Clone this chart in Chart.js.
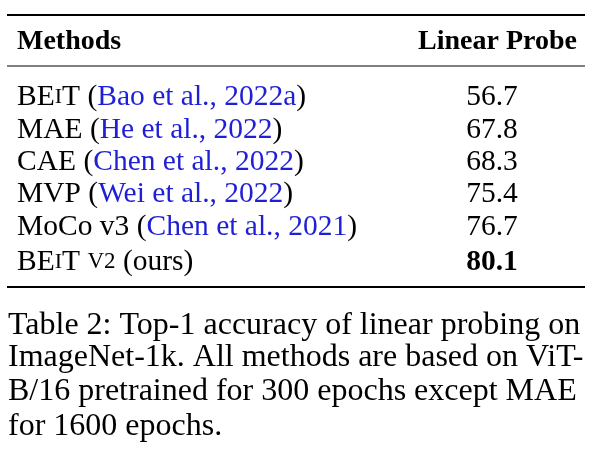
<!DOCTYPE html>
<html>
<head>
<meta charset="UTF-8">
<script src="https://cdn.jsdelivr.net/npm/chart.js"></script>
<style>
  body { margin: 0; background: #fff; }
  #wrap { width: 600px; height: 465px; }
</style>
</head>
<body>
<div id="wrap"><canvas id="tbl"></canvas></div>
<script>
// table content
const methods = ['BEiT', 'MAE', 'CAE', 'MVP', 'MoCo v3', 'BEiT v2'];
const citations = ['Bao et al., 2022a', 'He et al., 2022', 'Chen et al., 2022', 'Wei et al., 2022', 'Chen et al., 2021', ''];
const linearProbe = [56.7, 67.8, 68.3, 75.4, 76.7, 80.1];
const header = ['Methods', 'Linear Probe'];
const caption = [
  'Table 2: Top-1 accuracy of linear probing on',
  'ImageNet-1k. All methods are based on ViT-',
  'B/16 pretrained for 300 epochs except MAE',
  'for 1600 epochs.'
];

const F = '"Liberation Serif", "DejaVu Serif", serif';
const rowY = [97, 130, 162, 194, 227, 262];
const capY = [326, 358, 392, 427];
const FS = 29.5;

// draw a method name, small caps for the "i" in BEiT and "v2"
function methodSegments(name) {
  if (name === 'BEiT') return [['BE', FS], ['I', 22], ['T', FS]];
  if (name === 'BEiT v2') return [['BE', FS], ['I', 22], ['T ', FS], ['V2', 23]];
  return [[name, FS]];
}

const tablePlugin = {
  id: 'table',
  afterDraw(chart) {
    const c = chart.ctx, sx = chart.scales.x, sy = chart.scales.y;
    const X = v => sx.getPixelForValue(v), Y = v => sy.getPixelForValue(v);
    c.save();
    c.fillStyle = '#000';
    c.strokeStyle = '#000';
    // rules
    [[15, 2], [66, 1.2], [287, 2]].forEach(([y, w]) => {
      c.lineWidth = w;
      c.beginPath(); c.moveTo(X(7), Y(y)); c.lineTo(X(585), Y(y)); c.stroke();
    });
    c.textBaseline = 'middle';
    c.font = 'bold 28px ' + F;
    c.textAlign = 'left';
    c.fillText(header[0], X(17), Y(42));
    c.textAlign = 'right';
    c.fillText(header[1], X(577), Y(42));
    methods.forEach((m, i) => {
      let x = X(17);
      c.textAlign = 'left';
      methodSegments(m).forEach(([t, s]) => {
        c.font = s + 'px ' + F;
        c.fillStyle = '#000';
        c.fillText(t, x, Y(rowY[i]));
        x += c.measureText(t).width;
      });
      c.font = FS + 'px ' + F;
      if (citations[i]) {
        const parts = [[' (', '#000'], [citations[i], '#1f1fd6'], [')', '#000']];
        parts.forEach(([t, col]) => {
          c.fillStyle = col; c.fillText(t, x, Y(rowY[i])); x += c.measureText(t).width;
        });
      } else {
        c.fillText(' (ours)', x, Y(rowY[i]));
      }
      c.fillStyle = '#000';
      c.textAlign = 'center';
      c.font = (i === methods.length - 1 ? 'bold ' : '') + FS + 'px ' + F;
      c.fillText(linearProbe[i].toFixed(1), X(492), Y(rowY[i]));
    });
    c.textAlign = 'left';
    c.font = '32px ' + F;
    caption.forEach((t, i) => c.fillText(t, X(8), Y(capY[i])));
    c.restore();
  }
};

new Chart(document.getElementById('tbl'), {
  type: 'scatter',
  data: { datasets: [{ data: [] }] },
  options: {
    responsive: true,
    maintainAspectRatio: false,
    animation: false,
    layout: { padding: 0 },
    plugins: { legend: { display: false }, tooltip: { enabled: false } },
    scales: {
      x: { type: 'linear', min: 0, max: 600, display: false },
      y: { type: 'linear', min: 0, max: 465, reverse: true, display: false }
    }
  },
  plugins: [tablePlugin]
});
</script>
</body>
</html>
